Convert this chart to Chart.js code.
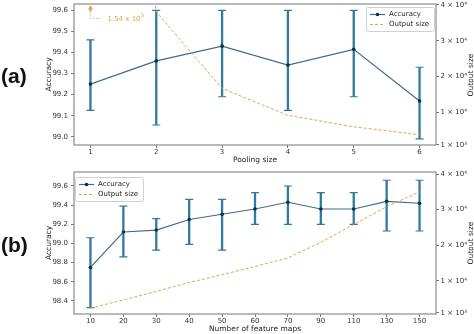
<!DOCTYPE html>
<html lang="en">
<head>
<meta charset="UTF-8">
<title>Accuracy and output size</title>
<script src="https://cdn.jsdelivr.net/npm/chart.js@4.4.4/dist/chart.umd.min.js"></script>
<style>
  body { margin: 0; background: #fff; width: 474px; height: 334px; position: relative; overflow: hidden; font-family: 'DejaVu Sans', sans-serif; }
  canvas { position: absolute; left: 0; }
  .tag { position: absolute; left: 1px; font: bold 21px/22px 'Liberation Sans', Arial, sans-serif; color: #111; }
  .side-title { position: absolute; font-size: 7.5px; color: #222; white-space: nowrap; transform: translate(-50%, -50%) rotate(-90deg); }
</style>
</head>
<body>
  <canvas id="poolChart" width="474" height="167" style="top:0"></canvas>
  <canvas id="mapsChart" width="474" height="167" style="top:167px"></canvas>
  <div class="tag" style="top:65px">(a)</div>
  <div class="tag" style="top:234px">(b)</div>
  <div class="side-title" style="left:469.5px; top:75px">Output size</div>
  <div class="side-title" style="left:469.5px; top:243px">Output size</div>

<script>
// (a) pooling size sweep
const poolSizes = [1, 2, 3, 4, 5, 6];
const poolAcc = [99.25, 99.36, 99.43, 99.34, 99.415, 99.17];
const poolAccLow = [99.125, 99.056, 99.19, 99.125, 99.19, 98.99];
const poolAccHigh = [99.46, 99.60, 99.60, 99.60, 99.60, 99.33];
const poolOutput = [154000, 38000, 16700, 9200, 6000, 3800];
const poolAccTicks = [99.0, 99.1, 99.2, 99.3, 99.4, 99.5, 99.6];

// (b) number of feature maps sweep
const featureMaps = ['10', '20', '30', '40', '50', '60', '70', '90', '110', '130', '150'];
const mapsAcc = [98.75, 99.12, 99.14, 99.25, 99.305, 99.36, 99.43, 99.36, 99.36, 99.44, 99.42];
const mapsAccLow = [98.33, 98.86, 98.93, 98.99, 98.93, 99.20, 99.20, 99.20, 99.20, 99.13, 99.13];
const mapsAccHigh = [99.06, 99.39, 99.26, 99.46, 99.46, 99.53, 99.60, 99.53, 99.53, 99.66, 99.66];
const mapsOutput = [2300, 4600, 7000, 9500, 11700, 14000, 16400, 20800, 25800, 30800, 35000];
const mapsAccTicks = [98.4, 98.6, 98.8, 99.0, 99.2, 99.4, 99.6];

const outputTicks = [1000, 10000, 20000, 30000, 40000];
const outputTickLabels = ['1 × 10³', '1 × 10⁴', '2 × 10⁴', '3 × 10⁴', '4 × 10⁴'];

const BLUE_LINE = '#3a6d8e';
const BLUE_BAR = '#3079a0';
const MARKER = '#0e2d4a';
const ORANGE = '#e4a24c';
const FRAME = '#8c8c8c';

Chart.defaults.font.family = "'DejaVu Sans', sans-serif";
Chart.defaults.font.size = 7;
Chart.defaults.color = '#333';

function makeErrorBars(xs, low, high) {
  return {
    id: 'errorBars',
    beforeDatasetsDraw(chart) {
      const { ctx, scales: { x, y } } = chart;
      ctx.save();
      ctx.strokeStyle = BLUE_BAR;
      xs.forEach((xv, i) => {
        const px = x.getPixelForValue(xv);
        const top = y.getPixelForValue(high[i]);
        const bot = y.getPixelForValue(low[i]);
        ctx.lineWidth = 2.3;
        ctx.beginPath();
        ctx.moveTo(px, top);
        ctx.lineTo(px, bot);
        ctx.stroke();
        ctx.lineWidth = 1.2;
        ctx.beginPath();
        ctx.moveTo(px - 4, top); ctx.lineTo(px + 4, top);
        ctx.moveTo(px - 4, bot); ctx.lineTo(px + 4, bot);
        ctx.stroke();
      });
      ctx.restore();
    }
  };
}

const frame = {
  id: 'frame',
  afterDatasetsDraw(chart) {
    const { ctx, chartArea: a } = chart;
    ctx.save();
    ctx.strokeStyle = FRAME;
    ctx.lineWidth = 1.2;
    ctx.strokeRect(a.left, a.top, a.right - a.left, a.bottom - a.top);
    ctx.restore();
  }
};

// legend box drawn inside the plot area
function makeLegend(boxX, boxY) {
  return {
    id: 'insideLegend',
    afterDraw(chart) {
      const { ctx } = chart;
      const w = 68, h = 24;
      ctx.save();
      ctx.fillStyle = 'rgba(255,255,255,0.85)';
      ctx.strokeStyle = '#d0d0d0';
      ctx.lineWidth = 1;
      ctx.beginPath();
      ctx.roundRect(boxX + 0.5, boxY + 0.5, w, h, 2);
      ctx.fill();
      ctx.stroke();

      const r1 = boxY + 7.5, r2 = boxY + 17.5;
      ctx.strokeStyle = BLUE_LINE;
      ctx.lineWidth = 1.2;
      ctx.beginPath();
      ctx.moveTo(boxX + 4, r1); ctx.lineTo(boxX + 19, r1);
      ctx.stroke();
      ctx.fillStyle = MARKER;
      ctx.beginPath();
      ctx.arc(boxX + 11.5, r1, 1.8, 0, Math.PI * 2);
      ctx.fill();

      ctx.strokeStyle = ORANGE;
      ctx.lineWidth = 1;
      ctx.setLineDash([3, 2]);
      ctx.beginPath();
      ctx.moveTo(boxX + 4, r2); ctx.lineTo(boxX + 19, r2);
      ctx.stroke();
      ctx.setLineDash([]);

      ctx.fillStyle = '#222';
      ctx.font = "7px 'DejaVu Sans', sans-serif";
      ctx.textBaseline = 'middle';
      ctx.fillText('Accuracy', boxX + 23, r1);
      ctx.fillText('Output size', boxX + 23, r2);
      ctx.restore();
    }
  };
}

// off-scale marker for the first output size value
const peakNote = {
  id: 'peakNote',
  afterDatasetsDraw(chart) {
    const { ctx, chartArea, scales: { x } } = chart;
    const px = x.getPixelForValue(poolSizes[0]);
    const top = chartArea.top;
    ctx.save();
    ctx.fillStyle = ORANGE;
    ctx.strokeStyle = ORANGE;
    ctx.beginPath();
    ctx.moveTo(px, top + 1);
    ctx.lineTo(px - 2.5, top + 5.5);
    ctx.lineTo(px + 2.5, top + 5.5);
    ctx.closePath();
    ctx.fill();
    ctx.fillRect(px - 1, top + 5, 2, 2.5);
    ctx.lineWidth = 0.8;
    ctx.setLineDash([1.5, 1.5]);
    ctx.beginPath();
    ctx.moveTo(px, top + 8);
    ctx.lineTo(px, top + 14.5);
    ctx.lineTo(px + 10, top + 14.5);
    ctx.stroke();
    ctx.setLineDash([]);

    const base = (poolOutput[0] / 1e5).toFixed(2) + ' x 10';
    ctx.textBaseline = 'middle';
    ctx.font = "7px 'DejaVu Sans', sans-serif";
    ctx.fillText(base, px + 17, top + 15);
    const bw = ctx.measureText(base).width;
    ctx.font = "5px 'DejaVu Sans', sans-serif";
    ctx.fillText('5', px + 17 + bw + 0.5, top + 11.5);
    ctx.restore();
  }
};

function fixBox(size, horizontal) {
  return s => {
    if (horizontal) s.height = size; else s.width = size;
    s.paddingTop = 0; s.paddingBottom = 0; s.paddingLeft = 0; s.paddingRight = 0;
  };
}

const tickGrid = { drawOnChartArea: false, drawTicks: true, tickLength: 3, color: '#777' };

function makePanel(id, cfg) {
  const accPoints = cfg.xs.map((xv, i) => ({ x: xv, y: cfg.acc[i] }));
  const outPoints = cfg.xs.map((xv, i) => ({ x: xv, y: cfg.out[i] }));
  return new Chart(document.getElementById(id), {
    type: 'line',
    data: {
      datasets: [
        {
          label: 'Output size',
          data: outPoints,
          yAxisID: 'y2',
          borderColor: ORANGE,
          borderWidth: 1,
          borderDash: [3, 2],
          pointRadius: 0,
          clip: 0,
          tension: 0
        },
        {
          label: 'Accuracy',
          data: accPoints,
          yAxisID: 'y',
          borderColor: BLUE_LINE,
          borderWidth: 1.2,
          pointRadius: 1.8,
          pointBorderWidth: 0,
          pointBackgroundColor: MARKER,
          tension: 0
        }
      ]
    },
    options: {
      responsive: false,
      animation: false,
      layout: { padding: { left: 40, top: cfg.top, right: 0, bottom: 0 } },
      plugins: { legend: { display: false }, tooltip: { enabled: false } },
      scales: {
        x: {
          type: 'linear',
          min: cfg.xMin, max: cfg.xMax,
          grid: tickGrid,
          border: { display: false },
          afterBuildTicks: s => { s.ticks = cfg.xs.map(v => ({ value: v })); },
          afterFit: fixBox(cfg.xHeight, true),
          ticks: { padding: 0, autoSkip: false, maxRotation: 0, callback: cfg.xLabel },
          title: { display: true, text: cfg.xTitle, font: { size: 7.5 }, color: '#222', padding: { top: 0, bottom: cfg.titlePad } }
        },
        y: {
          position: 'left',
          min: cfg.yMin, max: cfg.yMax,
          grid: tickGrid,
          border: { display: false },
          afterBuildTicks: s => { s.ticks = cfg.yTicks.map(v => ({ value: v })); },
          afterFit: fixBox(34, false),
          ticks: { padding: 3, callback: v => v.toFixed(1) },
          title: { display: true, text: 'Accuracy', font: { size: 7.5 }, color: '#222', padding: { top: 4.5, bottom: 0 } }
        },
        y2: {
          position: 'right',
          min: cfg.y2Min, max: cfg.y2Max,
          grid: tickGrid,
          border: { display: false },
          afterBuildTicks: s => { s.ticks = outputTicks.map(v => ({ value: v })); },
          afterFit: fixBox(38, false),
          ticks: { padding: 1.5, callback: v => outputTickLabels[outputTicks.indexOf(v)] }
        }
      }
    },
    plugins: cfg.plugins
  });
}

makePanel('poolChart', {
  xs: poolSizes, acc: poolAcc, out: poolOutput,
  top: 4, xHeight: 22, titlePad: 2.5,
  xMin: 0.75, xMax: 6.25,
  yMin: 98.961, yMax: 99.63, yTicks: poolAccTicks,
  y2Min: 920, y2Max: 40230,
  xTitle: 'Pooling size',
  xLabel: v => String(v),
  plugins: [makeErrorBars(poolSizes, poolAccLow, poolAccHigh), frame, peakNote, makeLegend(366, 7)]
});

const mapIdx = featureMaps.map((_, i) => i);
makePanel('mapsChart', {
  xs: mapIdx, acc: mapsAcc, out: mapsOutput,
  top: 5, xHeight: 20, titlePad: 0.5,
  xMin: -0.5, xMax: 10.5,
  yMin: 98.264, yMax: 99.746, yTicks: mapsAccTicks,
  y2Min: 650, y2Max: 40570,
  xTitle: 'Number of feature maps',
  xLabel: v => featureMaps[v],
  plugins: [makeErrorBars(mapIdx, mapsAccLow, mapsAccHigh), frame, makeLegend(75, 10)]
});
</script>
</body>
</html>
